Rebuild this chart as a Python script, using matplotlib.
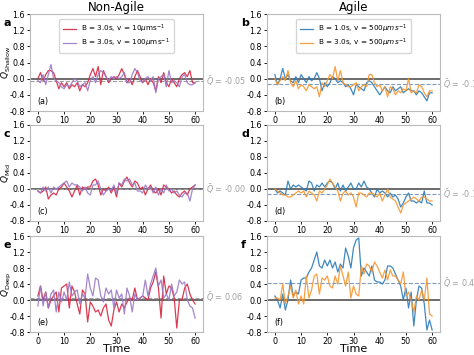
import numpy as np
import matplotlib
matplotlib.use("Agg")
import matplotlib.pyplot as plt

time = list(range(61))

shallow_v10 = [0.0, 0.15, -0.05, 0.1, 0.2, 0.2, 0.15, -0.05, -0.25, -0.1, -0.2, -0.1, -0.25, -0.15, -0.2, -0.1,
               -0.3, -0.15, -0.2, -0.1, 0.1, 0.25, 0.05, 0.3, -0.15, 0.2, 0.05, -0.1, 0.0, 0.05, 0.0, 0.1, 0.25,
               0.1, -0.1, 0.0, -0.15, 0.05, 0.2, 0.05, -0.1, 0.0, -0.15, 0.0, -0.1, -0.3, 0.05, -0.1, 0.15, -0.1,
               -0.2, 0.0, -0.1, -0.2, 0.0, 0.1, 0.15, 0.05, 0.2, -0.1, -0.1]
shallow_v100 = [-0.05, -0.1, 0.1, -0.15, 0.1, 0.35, 0.0, -0.05, -0.1, -0.2, -0.25, -0.15, -0.2, -0.1, 0.0, -0.05,
                -0.2, -0.15, -0.1, -0.3, -0.05, 0.05, -0.1, 0.1, 0.2, 0.15, 0.05, -0.05, 0.05, 0.0, 0.05, 0.0, 0.05,
                0.15, -0.1, -0.1, 0.1, 0.25, 0.15, -0.05, -0.1, 0.0, 0.05, -0.05, 0.05, -0.35, 0.0, 0.05, 0.1, -0.2,
                0.2, -0.1, -0.05, -0.1, -0.2, 0.05, 0.1, -0.1, -0.15, -0.15, -0.1]
shallow_b1 = [0.1, -0.15, 0.0, 0.25, 0.0, 0.1, -0.05, -0.1, 0.05, -0.1, 0.1, 0.0, -0.1, 0.05, -0.05, 0.0, 0.15,
              0.0, -0.3, -0.1, -0.2, -0.1, 0.05, 0.0, -0.1, -0.05, -0.1, -0.2, -0.15, -0.25, -0.4, -0.15, -0.2,
              -0.25, -0.3, -0.1, -0.05, -0.1, -0.2, -0.3, -0.4, -0.3, -0.2, -0.3, -0.35, -0.2, -0.3, -0.25, -0.2,
              -0.35, -0.3, -0.25, -0.3, -0.3, -0.4, -0.3, -0.35, -0.45, -0.55, -0.35, -0.35]
shallow_b3 = [0.0, -0.15, -0.05, 0.05, -0.05, 0.2, -0.1, -0.2, -0.05, -0.25, -0.15, -0.2, -0.3, -0.15, -0.2, -0.25,
              -0.2, -0.45, -0.1, -0.2, -0.05, 0.1, 0.0, 0.3, -0.05, 0.2, -0.1, -0.15, -0.2, -0.2, -0.15, -0.1, -0.3,
              -0.2, -0.15, -0.2, 0.1, 0.1, -0.1, -0.2, -0.15, -0.3, -0.2, -0.45, -0.2, -0.25, -0.4, -0.3, -0.35,
              -0.25, -0.3, 0.0, -0.35, -0.3, -0.35, -0.15, -0.2, -0.35, -0.45, -0.3, -0.3]

mid_v10 = [-0.05, -0.1, -0.05, 0.05, -0.25, -0.15, -0.1, -0.15, 0.0, 0.05, 0.15, 0.05, -0.05, -0.2, -0.05, 0.1,
           -0.15, 0.05, 0.0, 0.05, 0.05, 0.2, 0.25, 0.1, -0.15, 0.0, -0.05, 0.05, -0.1, 0.05, -0.2, 0.15, 0.05, 0.2,
           0.3, 0.15, 0.05, 0.2, 0.15, 0.0, 0.05, -0.15, 0.0, 0.1, -0.05, -0.1, 0.0, -0.15, 0.1, 0.05, 0.0, -0.1,
           -0.05, -0.15, -0.2, -0.1, -0.05, -0.15, 0.0, 0.05, 0.1]
mid_v100 = [-0.05, -0.1, 0.05, -0.05, 0.05, -0.1, 0.05, 0.0, 0.05, 0.1, 0.15, 0.2, 0.05, 0.15, 0.1, 0.1, 0.05,
            -0.05, 0.05, -0.1, -0.15, 0.1, 0.1, 0.2, 0.0, -0.15, -0.05, 0.0, -0.05, 0.1, -0.1, 0.15, 0.1, 0.25, 0.2,
            0.25, 0.1, 0.15, -0.05, -0.05, -0.1, 0.1, 0.0, 0.05, -0.1, 0.05, -0.15, 0.0, -0.1, 0.1, -0.05, 0.0,
            -0.1, -0.05, -0.15, -0.2, -0.1, -0.1, -0.3, 0.0, 0.1]
mid_b1 = [0.0, -0.1, -0.05, -0.1, -0.15, 0.2, 0.0, 0.1, 0.05, 0.1, 0.05, 0.0, -0.05, 0.2, 0.15, -0.05, 0.1, 0.05,
          0.15, 0.05, 0.15, 0.2, 0.15, 0.0, 0.15, -0.05, 0.1, -0.05, 0.05, 0.15, 0.0, 0.0, 0.15, 0.05, 0.2, 0.05,
          0.0, -0.1, -0.2, 0.0, -0.1, -0.05, -0.1, -0.2, -0.1, -0.2, -0.15, -0.25, -0.45, -0.35, -0.2, -0.1, -0.3,
          -0.3, -0.35, -0.3, -0.35, -0.05, -0.35, -0.35, -0.4]
mid_b3 = [0.0, -0.05, -0.1, -0.15, -0.15, -0.2, -0.2, -0.15, -0.1, -0.05, -0.1, -0.05, -0.2, -0.05, -0.1, -0.15,
          -0.3, -0.05, -0.1, 0.0, 0.1, 0.25, 0.15, 0.05, -0.05, -0.3, -0.1, -0.05, -0.15, -0.1, -0.2, -0.45, -0.1,
          -0.1, -0.15, -0.2, -0.1, -0.1, -0.15, -0.2, -0.1, -0.3, -0.15, 0.0, -0.2, -0.25, -0.3, -0.45, -0.6, -0.4,
          -0.35, -0.3, -0.25, -0.2, -0.25, -0.3, -0.2, -0.2, -0.25, -0.3, -0.3]

deep_v10 = [0.1, 0.35, 0.0, 0.2, -0.2, 0.0, 0.1, 0.2, -0.3, 0.3, 0.35, 0.4, -0.2, 0.35, 0.2, -0.1, -0.35, 0.25,
            0.15, -0.55, -0.05, -0.15, -0.3, -0.25, -0.4, -0.2, -0.1, -0.5, -0.65, -0.25, -0.05, -0.3, -0.1, -0.2,
            -0.05, 0.05, 0.0, 0.3, 0.0, 0.05, 0.1, 0.05, 0.0, 0.3, 0.45, 0.7, 0.3, -0.45, 0.6, 0.15, 0.35, 0.3,
            0.05, -0.7, 0.0, 0.0, 0.3, 0.4, 0.15, 0.0, -0.1]
deep_v100 = [-0.15, 0.35, -0.15, 0.2, -0.2, 0.15, 0.25, -0.3, 0.2, -0.05, 0.2, 0.0, 0.45, 0.1, 0.2, 0.25, -0.1,
             0.15, 0.05, 0.65, 0.3, 0.1, 0.55, 0.5, 0.1, -0.05, 0.3, 0.15, 0.25, -0.2, 0.25, 0.05, 0.15, -0.35, 0.3,
             0.1, -0.3, 0.15, 0.0, 0.05, 0.1, 0.5, 0.1, 0.4, 0.6, 0.8, 0.35, 0.5, 0.05, 0.15, 0.0, 0.4, 0.1, 0.2,
             0.5, 0.4, 0.45, 0.0, -0.15, -0.2, -0.45]
deep_b1 = [0.1, 0.0, -0.2, 0.15, -0.25, 0.0, 0.5, 0.1, 0.2, 0.15, 0.5, 0.55, 0.55, 0.7, 0.8, 1.0, 1.2, 0.85, 0.8,
           1.0, 0.85, 1.0, 0.8, 0.95, 0.7, 0.9, 0.8, 1.3, 1.1, 0.8, 1.3, 1.5, 1.55, 0.6, 0.8, 0.7, 0.6, 0.85, 0.5,
           0.45, 0.45, 0.4, 0.5, 0.85, 0.85, 0.8, 0.65, 0.5, 0.35, 0.0, 0.3, -0.2, 0.2, -0.65, 0.0, 0.35, 0.3, -0.1,
           -0.75, -0.5, -0.75]
deep_b3 = [0.05, 0.05, 0.0, 0.4, -0.1, 0.1, 0.35, 0.05, 0.25, -0.1, 0.1, -0.1, 0.6, 0.05, 0.25, 0.6, 0.65, 0.15,
           0.55, 0.5, 0.6, 0.35, 0.3, 0.6, 0.4, 0.85, 0.6, 0.35, 0.7, 0.05, 0.35, 0.15, 0.1, 0.85, 0.65, 0.9, 0.85,
           0.7, 0.95, 0.85, 0.7, 0.55, 0.75, 0.5, 0.75, 0.6, 0.6, 0.5, 0.4, 0.7, 0.1, 0.2, 0.0, -0.3, 0.1, 0.0, 0.25,
           0.0, 0.55, -0.35, -0.4]

means_left = [-0.05, -0.00, 0.06]
means_right = [-0.13, -0.13, 0.42]
mean_labels_left = ["-0.05", "-0.00", "0.06"]
mean_labels_right = ["-0.13", "-0.13", "0.42"]

row_names = ["Shallow", "Mid", "Deep"]
left_series = [(shallow_v10, shallow_v100), (mid_v10, mid_v100), (deep_v10, deep_v100)]
right_series = [(shallow_b1, shallow_b3), (mid_b1, mid_b3), (deep_b1, deep_b3)]
left_labels = [r"B = 3.0s, v = 10$\mu$ms$^{-1}$", r"B = 3.0s, v = 100$\mu$ms$^{-1}$"]
right_labels = [r"B = 1.0s, v = 500$\mu ms^{-1}$", r"B = 3.0s, v = 500$\mu ms^{-1}$"]
yticks = [-0.8, -0.4, 0.0, 0.4, 0.8, 1.2, 1.6]
xticks = [0, 10, 20, 30, 40, 50, 60]

W, H = 474, 355
fig = plt.figure(figsize=(W / 100, H / 100), dpi=100)

rows_px = [(14, 111), (125, 221), (236, 332)]
cols_px = [(30, 203), (267, 440)]
letters = [["a", "b"], ["c", "d"], ["e", "f"]]
left_colors = ["#d6263f", "#9a79c8"]
right_colors = ["#2b7bb9", "#f7962e"]

for r, (top, bot) in enumerate(rows_px):
    for c, (lx, rx) in enumerate(cols_px):
        ax = fig.add_axes([lx / W, 1 - bot / H, (rx - lx) / W, (bot - top) / H])
        if c == 0:
            s1, s2 = left_series[r]
            cols = left_colors
            labs = left_labels
            mval = means_left[r]
            mlab = mean_labels_left[r]
            dcol = "#a0a0a0"
        else:
            s1, s2 = right_series[r]
            cols = right_colors
            labs = right_labels
            mval = means_right[r]
            mlab = mean_labels_right[r]
            dcol = "#7f9cbf"
        ax.plot(time, s1, color=cols[0], lw=0.9, alpha=0.9, label=labs[0])
        ax.plot(time, s2, color=cols[1], lw=0.9, alpha=0.9, label=labs[1])
        ax.axhline(0, color="#444444", lw=1.1, zorder=1)
        ax.axhline(mval, color=dcol, lw=0.8, ls="--", zorder=1)
        ax.text(1.02, mval, r"$\bar{Q}$ = " + mlab, transform=ax.get_yaxis_transform(),
                color="#a0a0a0", fontsize=5.8, va="center", ha="left", clip_on=False)
        ax.set_ylim(-0.8, 1.6)
        ax.set_xlim(-3, 63)
        ax.set_yticks(yticks)
        ax.set_yticklabels([f"{v:.1f}" for v in yticks])
        ax.set_xticks(xticks)
        ax.tick_params(labelsize=5.8, length=2.5, width=0.6, pad=1)
        for sp in ax.spines.values():
            sp.set_color("#bbbbbb")
            sp.set_linewidth(0.8)
        ax.text(0.04, 0.07, f"({letters[r][c]})", transform=ax.transAxes, fontsize=5.8)
        fig.text((lx - 26) / W, 1 - (top + 4) / H, letters[r][c], fontsize=8, fontweight="bold",
                 va="top", ha="left")
        if c == 0:
            ax.set_ylabel(r"$\tilde{Q}_{\mathrm{" + row_names[r] + "}}$", fontsize=6.5)
            ax.yaxis.set_label_coords(-0.097, 0.5)
        if r == 0:
            ax.set_title("Non-Agile" if c == 0 else "Agile", fontsize=8.5, pad=2)
            ax.legend(loc="upper center", fontsize=5.2, handlelength=1.8, borderpad=0.5,
                      labelspacing=0.3, bbox_to_anchor=(0.5, 0.985))
        if r == 2:
            ax.set_xlabel("Time", fontsize=8)
            ax.xaxis.set_label_coords(0.5, -0.13)

fig.savefig("out.png", dpi=100)
